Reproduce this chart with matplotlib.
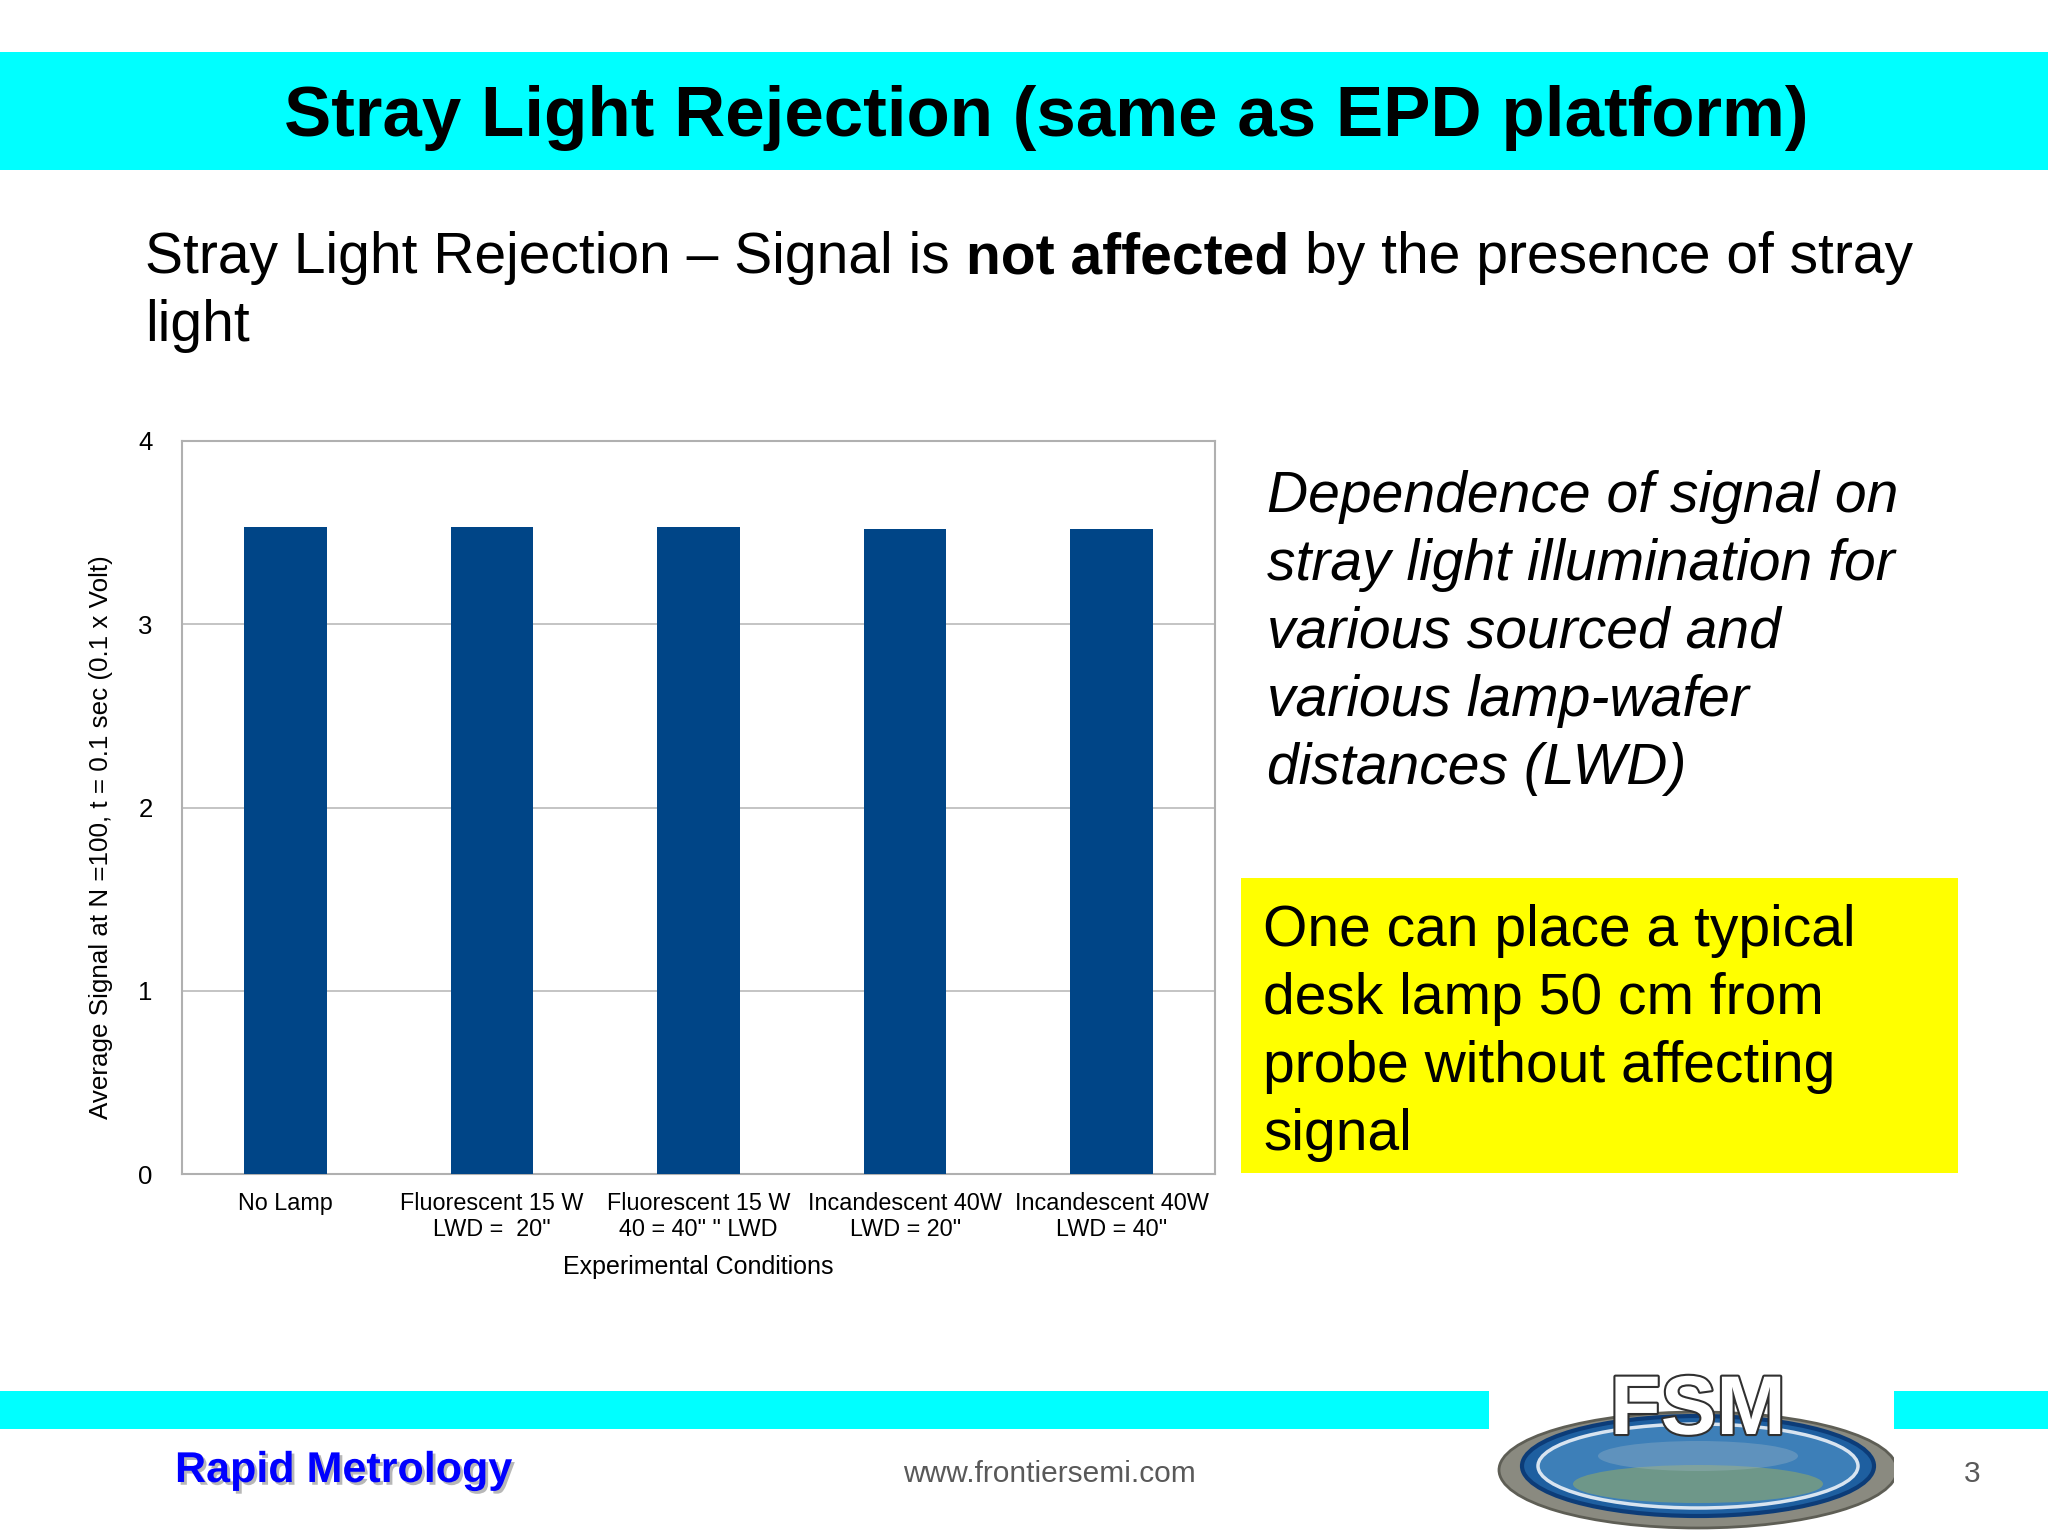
import numpy as np
import matplotlib
matplotlib.use("Agg")
import matplotlib.pyplot as plt
from matplotlib.patches import Rectangle, Ellipse
import matplotlib.patheffects as pe

plt.rcParams['font.family'] = ['Liberation Sans', 'DejaVu Sans']

# chart data
conditions = ["No Lamp",
              "Fluorescent 15 W\nLWD =  20\"",
              "Fluorescent 15 W\n40 = 40\" \" LWD",
              "Incandescent 40W\nLWD = 20\"",
              "Incandescent 40W\nLWD = 40\""]
signal = [3.528, 3.533, 3.528, 3.522, 3.519]
yticks = [0, 1, 2, 3, 4]

title = "Stray Light Rejection (same as EPD platform)"
side_lines = ["Dependence of signal on",
              "stray light illumination for",
              "various sourced and",
              "various lamp-wafer",
              "distances (LWD)"]
box_lines = ["One can place a typical",
             "desk lamp 50 cm from",
             "probe without affecting",
             "signal"]

W, H = 2048, 1536
fig = plt.figure(figsize=(W / 100, H / 100), dpi=100)
fig.patch.set_facecolor("white")


def fx(px):
    return px / W


def fy(py):
    return 1 - py / H


# header band
fig.patches.append(Rectangle((0, fy(170)), 1, fy(52) - fy(170), transform=fig.transFigure,
                             facecolor="#00FFFF", edgecolor="none", zorder=0))
fig.text(fx(1046), fy(136), title, ha="center", va="baseline",
         fontsize=51, fontweight="bold", color="black")

# subtitle with a bold part
renderer = fig.canvas.get_renderer()
parts = [("Stray Light Rejection \u2013 Signal is", "normal"),
         ("not affected", "bold"),
         ("by the presence of stray", "normal")]
tmp = fig.text(0, 0, "x x", fontsize=41)
w2 = tmp.get_window_extent(renderer).width
tmp.set_text("xx")
space_w = w2 - tmp.get_window_extent(renderer).width
tmp.remove()
x = 145
for s, wgt in parts:
    t = fig.text(fx(x), fy(273), s, fontsize=41, fontweight=wgt, va="baseline")
    x = t.get_window_extent(renderer).x1 + space_w
fig.text(fx(145), fy(341), "light", fontsize=41, va="baseline")

# bar chart
ax = fig.add_axes([fx(182), fy(1174), fx(1215) - fx(182), fy(441) - fy(1174)])
xpos = np.arange(len(conditions))
ax.bar(xpos, signal, width=0.4, color="#004587", zorder=3)
ax.set_xlim(-0.5, len(conditions) - 0.5)
ax.set_ylim(0, 4)
ax.set_yticks(yticks)
ax.set_yticklabels([str(v) for v in yticks], fontsize=18.5)
ax.set_xticks(xpos)
ax.set_xticklabels(conditions, fontsize=16.8, linespacing=1.15)
ax.tick_params(axis="both", length=0)
ax.tick_params(axis="y", pad=21)
ax.tick_params(axis="x", pad=13)
ax.grid(axis="y", color="#BFBFBF", linewidth=1.3, zorder=0)
for sp in ax.spines.values():
    sp.set_color("#B0B0B0")
    sp.set_linewidth(1.5)
ax.set_xlabel("Experimental Conditions", fontsize=18, labelpad=10)
ax.set_ylabel("Average Signal at N =100, t = 0.1 sec (0.1 x Volt)", fontsize=18.7)
ax.yaxis.set_label_coords(-0.067, 0.459)

# side text
for i, s in enumerate(side_lines):
    fig.text(fx(1267), fy(512 + 68 * i), s, fontsize=41, style="italic", va="baseline")

# yellow box
fig.patches.append(Rectangle((fx(1241), fy(1173)), fx(1958) - fx(1241), fy(878) - fy(1173),
                             transform=fig.transFigure, facecolor="#FFFF00", edgecolor="none", zorder=0))
for i, s in enumerate(box_lines):
    fig.text(fx(1263), fy(946 + 68 * i), s, fontsize=41, va="baseline")

# footer band
fig.patches.append(Rectangle((0, fy(1429)), fx(1489), fy(1391) - fy(1429), transform=fig.transFigure,
                             facecolor="#00FFFF", edgecolor="none", zorder=0))
fig.patches.append(Rectangle((fx(1894), fy(1429)), 1 - fx(1894), fy(1391) - fy(1429), transform=fig.transFigure,
                             facecolor="#00FFFF", edgecolor="none", zorder=0))
fig.text(fx(175), fy(1482), "Rapid Metrology", fontsize=31, fontweight="bold", color="#0000FF",
         va="baseline", path_effects=[pe.withSimplePatchShadow(offset=(2, -2), shadow_rgbFace="#888888", alpha=0.6)])
fig.text(fx(1049), fy(1482), "www.frontiersemi.com", fontsize=21.5, color="#595959",
         ha="center", va="baseline")
fig.text(fx(1972), fy(1482), "3", fontsize=21.5, color="#595959", ha="center", va="baseline")

# FSM logo
lax = fig.add_axes([fx(1493), fy(1530), fx(1894) - fx(1493), fy(1362) - fy(1530)])
lax.set_xlim(0, 401)
lax.set_ylim(0, 168)
lax.axis("off")
lax.add_patch(Ellipse((205, 60), 398, 116, facecolor="#8A8A80", edgecolor="#5E5E55", linewidth=2))
lax.add_patch(Ellipse((205, 64), 352, 100, facecolor="#1E5FA0", edgecolor="#0C3C78", linewidth=3))
lax.add_patch(Ellipse((205, 64), 320, 84, facecolor="#3D7FB8", edgecolor="#D8E4F0", linewidth=2.5))
lax.add_patch(Ellipse((205, 46), 250, 38, facecolor="#8FA86A", edgecolor="none", alpha=0.6))
lax.add_patch(Ellipse((205, 74), 200, 30, facecolor="#9FB8C8", edgecolor="none", alpha=0.35))
lax.text(205, 118, "FSM", fontsize=60, fontweight="bold", color="white", ha="center", va="center",
         path_effects=[pe.withStroke(linewidth=3, foreground="#303030")])

fig.savefig("out.png", dpi=100)
